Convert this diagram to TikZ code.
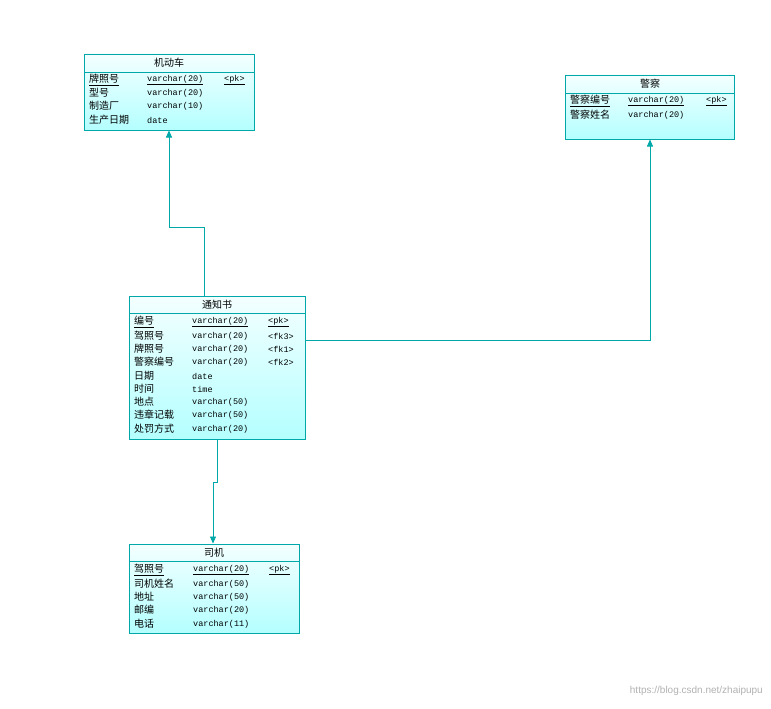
\documentclass[tikz,border=0pt]{standalone}
\usepackage{fontspec}
\setmainfont{Noto Sans CJK SC}
\newfontfamily\cjk{Noto Sans CJK SC}
\newfontfamily\monof{Liberation Mono}
\usetikzlibrary{arrows.meta}
\definecolor{teal2}{RGB}{0,168,170}
\definecolor{cyanf}{RGB}{180,255,255}
\tikzset{
  tbl/.style={draw=teal2,line width=0.8pt,top color=white!85!cyanf,bottom color=cyanf,shading angle=0},
  hd/.style={font=\cjk\fontsize{10}{10}\selectfont,inner sep=0pt},
  nm/.style={anchor=west,font=\cjk\fontsize{10}{10}\selectfont,inner sep=0pt},
  ty/.style={anchor=west,font=\monof\fontsize{8.5}{8.5}\selectfont,inner sep=0pt},
  conn/.style={draw=teal2,line width=0.7pt},
  arr/.style={conn,-{Triangle[length=7pt,width=6pt]}}
}
\newcommand{\erow}[7]{% prefix, y, x1,x2,x3, name, type ; key via \ekey
  \node[nm] (#1n#2) at (#3,#2) {#6};
  \node[ty] (#1t#2) at (#4,#2) {#7};}
\begin{document}
\begin{tikzpicture}[x=1pt,y=-1pt]
\useasboundingbox (0,0) rectangle (771,709);
\fill[white] (0,0) rectangle (771,709);
% tables
\path[tbl] (84,54) rectangle (254,130); \draw[teal2,line width=0.8pt] (84,72)--(254,72);
\node[hd] (h1) at (169,63) {机动车};
\erow{a}{80}{89}{147}{0}{\underline{牌照号}}{\underline{varchar(20)}}
\node[ty] (ak) at (224,80) {\underline{<pk>}};
\erow{a}{93}{89}{147}{0}{型号}{varchar(20)}
\erow{a}{106}{89}{147}{0}{制造厂}{varchar(10)}
\erow{a}{120}{89}{147}{0}{生产日期}{date}

\path[tbl] (565,75) rectangle (734,139); \draw[teal2,line width=0.8pt] (565,93)--(734,93);
\node[hd] (h2) at (650,84) {警察};
\erow{b}{101}{570}{628}{0}{\underline{警察编号}}{\underline{varchar(20)}}
\node[ty] (bk) at (706,101) {\underline{<pk>}};
\erow{b}{115}{570}{628}{0}{警察姓名}{varchar(20)}

\path[tbl] (129,296) rectangle (305,439); \draw[teal2,line width=0.8pt] (129,313)--(305,313);
\node[hd] (h3) at (217,304.5) {通知书};
\erow{c}{322}{134}{192}{0}{\underline{编号}}{\underline{varchar(20)}}
\node[ty] (ck1) at (268,322) {\underline{<pk>}};
\erow{c}{336}{134}{192}{0}{驾照号}{varchar(20)}
\node[ty] (ck2) at (268,336) {<fk3>};
\erow{c}{349}{134}{192}{0}{牌照号}{varchar(20)}
\node[ty] (ck3) at (268,349) {<fk1>};
\erow{c}{362}{134}{192}{0}{警察编号}{varchar(20)}
\node[ty] (ck4) at (268,362) {<fk2>};
\erow{c}{376}{134}{192}{0}{日期}{date}
\erow{c}{389}{134}{192}{0}{时间}{time}
\erow{c}{402}{134}{192}{0}{地点}{varchar(50)}
\erow{c}{415}{134}{192}{0}{违章记载}{varchar(50)}
\erow{c}{429}{134}{192}{0}{处罚方式}{varchar(20)}

\path[tbl] (129,544) rectangle (299,633); \draw[teal2,line width=0.8pt] (129,561)--(299,561);
\node[hd] (h4) at (214,552.5) {司机};
\erow{d}{570}{134}{193}{0}{\underline{驾照号}}{\underline{varchar(20)}}
\node[ty] (dk) at (269,570) {\underline{<pk>}};
\erow{d}{584}{134}{193}{0}{司机姓名}{varchar(50)}
\erow{d}{597}{134}{193}{0}{地址}{varchar(50)}
\erow{d}{610}{134}{193}{0}{邮编}{varchar(20)}
\erow{d}{624}{134}{193}{0}{电话}{varchar(11)}

% connectors
\coordinate (p1) at (204,296); \coordinate (q1) at (169,130.5);
\draw[arr] (p1) -- (204,227) -- (169,227) -- (q1);
\coordinate (p2) at (305,340); \coordinate (q2) at (650,139.5);
\draw[arr] (p2) -- (650,340) -- (q2);
\coordinate (p3) at (217,439); \coordinate (q3) at (213,543.5);
\draw[arr] (p3) -- (217,482) -- (213,482) -- (q3);

\node[anchor=east,inner sep=0pt,text=black!30,font=\fontspec{Liberation Sans}\fontsize{10}{10}\selectfont] (wm) at (763,691) {https://blog.csdn.net/zhaipupu};
\end{tikzpicture}
\end{document}
